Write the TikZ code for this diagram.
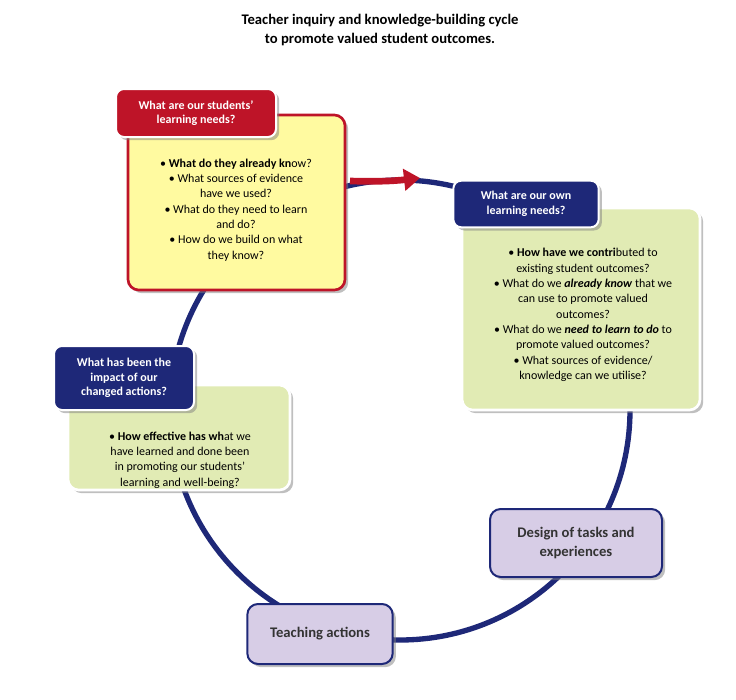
\documentclass[tikz,border=0pt]{standalone}
\usepackage{fontspec}
\setmainfont{Carlito}
\usetikzlibrary{shadows,arrows.meta}
\definecolor{navy}{RGB}{30,40,120}
\definecolor{darkred}{RGB}{190,20,40}
\definecolor{paleyellow}{RGB}{255,250,160}
\definecolor{palegreen}{RGB}{225,235,180}
\definecolor{lavender}{RGB}{215,205,230}
\tikzset{every picture/.style={line width=0.75pt}}
\tikzset{
  tag/.style={rounded corners=6pt, text=white, font=\bfseries\fontsize{9}{11}\selectfont, align=center, draw=white, line width=1.5pt, drop shadow, inner sep=4pt},
  panel/.style={rounded corners=8pt, drop shadow},
  stage/.style={rounded corners=8pt, fill=lavender, draw=navy, line width=1.5pt, font=\bfseries\fontsize{11}{14}\selectfont, text=black!80, align=center, drop shadow}
}
\begin{document}
\begin{tikzpicture}[x=0.75pt,y=0.75pt,yscale=-1,xscale=1]
\useasboundingbox (0,0) rectangle (736,700);

% Title
\draw (380,30) node [font=\bfseries\fontsize{11}{14}\selectfont, align=center] (title) {Teacher inquiry and knowledge-building cycle\\ to promote valued student outcomes.};

% Cycle
\draw [navy, line width=4pt] (400,410) circle (230);
\draw [darkred, line width=5pt, -{Triangle[length=12pt,width=16pt]}] (350,181) to[bend left=4] (420,178);

% Panels
\draw [panel, fill=paleyellow, draw=darkred, line width=2pt] (128,115) rectangle (345,290);
\draw (236,210) node [font=\fontsize{9}{11.5}\selectfont, align=center] (needsText) {%
• \textbf{What do they already kn}ow?\\ • What sources of evidence\\ have we used?\\ • What do they need to learn\\ and do?\\ • How do we build on what\\ they know?};
\draw [panel, fill=palegreen, draw=white, line width=2pt] (462,208) rectangle (700,410);
\draw (583,315) node [font=\fontsize{9}{11.5}\selectfont, align=center] (ownText) {%
• \textbf{How have we contri}buted to\\ existing student outcomes?\\ • What do we \textbf{\textit{already know}} that we\\ can use to promote valued\\ outcomes?\\ • What do we \textbf{\textit{need to learn to do}} to\\ promote valued outcomes?\\ • What sources of evidence/\\ knowledge can we utilise?};
\draw [panel, fill=palegreen, draw=white, line width=2pt] (68,385) rectangle (290,490);
\draw (180,460) node [font=\fontsize{9}{11.5}\selectfont, align=center] (impactText) {%
• \textbf{How effective has wh}at we\\ have learned and done been\\ in promoting our students'\\ learning and well-being?};

% Tags
\draw (196,113) node [tag, fill=darkred, minimum width=120pt, minimum height=36pt] (needsTag) {What are our students'\\ learning needs?};
\draw (526,204) node [tag, fill=navy, minimum width=109pt, minimum height=35pt] (ownTag) {What are our own\\ learning needs?};
\draw (124,378) node [tag, fill=navy, minimum width=105pt, minimum height=48pt] (impactTag) {What has been the\\ impact of our\\ changed actions?};

% Stages
\draw (576,543) node [stage, minimum width=129pt, minimum height=51pt] (design) {Design of tasks and\\ experiences};
\draw (320,634) node [stage, minimum width=109pt, minimum height=45pt] (teaching) {Teaching actions};
\end{tikzpicture}
\end{document}
